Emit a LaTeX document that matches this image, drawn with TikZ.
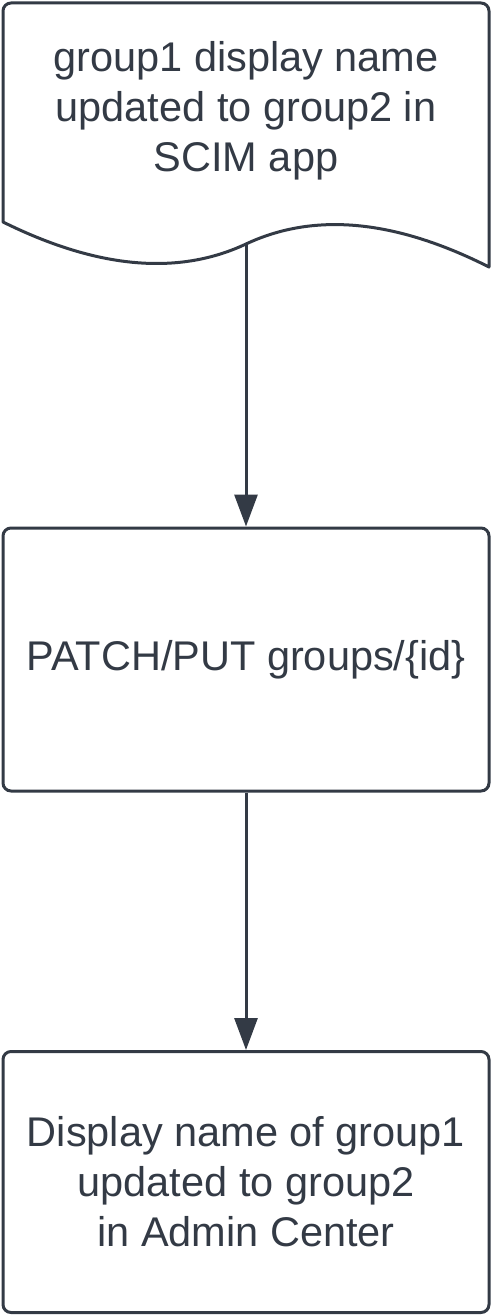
\documentclass[tikz,border=0pt]{standalone}
\usepackage{fontspec}
\setmainfont{Liberation Sans}
\usetikzlibrary{arrows.meta}

\definecolor{inkgray}{RGB}{51,58,69}

\tikzset{
	flowline/.style={draw=inkgray, line width=3pt},
	flowtext/.style={align=center, text=inkgray, font=\fontsize{41.5}{50}\selectfont},
	flowbox/.style={flowline, flowtext, rounded corners=8pt, minimum width=486pt},
	flowarrow/.style={flowline, -{Triangle[length=32pt,width=23pt]}}
}

\begin{document}
\begin{tikzpicture}[x=1pt, y=-1pt]
	\useasboundingbox (0,0) rectangle (491,1316);
	% document shape on top
	\draw[flowline, line join=round] (3,222) [rounded corners=8pt] -- (3,3) -- (489,3) [sharp corners] -- (489,267)
		.. controls (392,218) and (312,213) .. (246,244)
		.. controls (180,275) and (100,270) .. (3,222) -- cycle;
	\coordinate (docfoot) at (246,244);
	\node[flowtext] (doc) at (246,111)
		{group1 display name\\updated to group2 in\\SCIM app};
	\node[flowbox, minimum height=263pt] (patch) at (246,659.5) {PATCH/PUT groups/\{id\}};
	\node[flowbox, minimum height=261pt] (admin) at (246,1182)
		{Display name of group1\\updated to group2\\in Admin Center};
	\draw[flowarrow] (docfoot) -- (patch.north);
	\draw[flowarrow] (patch.south) -- (admin.north);
\end{tikzpicture}
\end{document}
